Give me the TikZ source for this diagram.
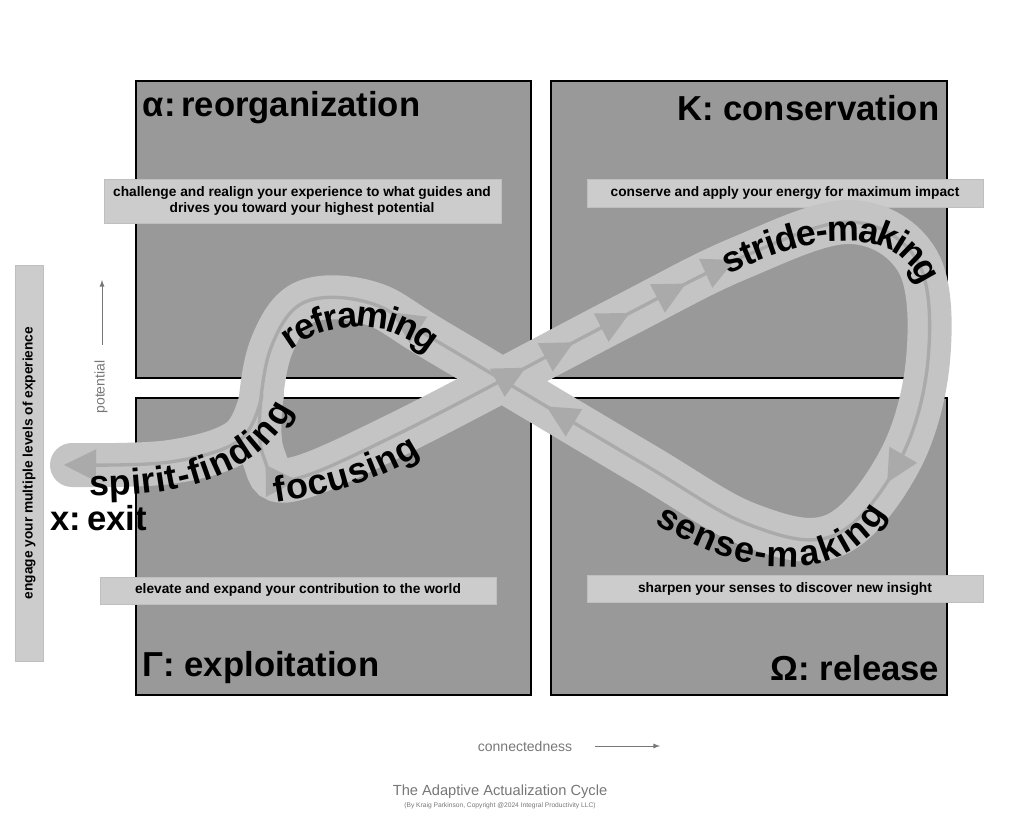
\documentclass[tikz,border=0pt]{standalone}
\usepackage{fontspec}
\setmainfont{Liberation Sans}
\usetikzlibrary{decorations.text,decorations.markings}
\definecolor{quad}{HTML}{999999}
\definecolor{band}{HTML}{C4C4C4}
\definecolor{banner}{HTML}{CCCCCC}
\definecolor{arr}{HTML}{AAAAAA}
\definecolor{axis}{HTML}{777777}
\tikzset{
  quadbox/.style={draw=black,line width=0.8pt,fill=quad},
  bannerbox/.style={draw=black!25,fill=banner,line width=0.5pt},
  bannertext/.style={font=\fontsize{10.3}{12.5}\selectfont\bfseries,align=center},
  qtitle/.style={font=\fontsize{26}{26}\selectfont\bfseries},
  curvetext/.style={decorate,decoration={text along path,text align=center,raise=-10pt,text={|\fontsize{27}{27}\selectfont\bfseries|#1}}}
}
\newcommand{\tri}{\fill[arr] (11pt,0) -- (-13pt,12pt) -- (-13pt,-12pt) -- cycle;}
\begin{document}
\begin{tikzpicture}[x=0.75pt,y=-0.75pt]
\useasboundingbox (0,0) rectangle (1017,823);
% quadrants
\draw[quadbox] (136,81) rectangle (531,378);
\draw[quadbox] (551,81) rectangle (947,378);
\draw[quadbox] (136,398) rectangle (531,695);
\draw[quadbox] (551,398) rectangle (947,695);
% titles
\node[qtitle,anchor=west] (ta) at (138,108) {α:\,reorganization};
\node[qtitle,anchor=east] (tk) at (944,108) {K: conservation};
\node[qtitle,anchor=west] (tr) at (138,668) {Γ: exploitation};
\node[qtitle,anchor=east] (to) at (944,668) {Ω: release};
\node[qtitle,anchor=west] (tx) at (46,518) {x:\,exit};
% banners
\draw[bannerbox] (104,179) rectangle (501,223);
\node[bannertext] (ba) at (302,201) {challenge and realign your experience to what guides and\\drives you toward your highest potential};
\draw[bannerbox] (587,179) rectangle (983,207);
\node[bannertext] (bk) at (785,193) {conserve and apply your energy for maximum impact};
\draw[bannerbox] (100,577) rectangle (496,604);
\node[bannertext] (br) at (298,590) {elevate and expand your contribution to the world};
\draw[bannerbox] (587,575) rectangle (983,602);
\node[bannertext] (bo) at (785,589) {sharpen your senses to discover new insight};
\draw[bannerbox] (15,265) rectangle (43,661);
\node[bannertext,rotate=90] (be) at (29,463) {engage your multiple levels of experience};
% axes
\node[font=\fontsize{10.5}{12}\selectfont,text=axis,rotate=90] (pl) at (101,387) {potential};
\coordinate (pa) at (102,345); \coordinate (pb) at (102,280);
\draw[axis,-latex,line width=0.7pt] (pa) -- (pb);
\node[font=\fontsize{10.5}{12}\selectfont,text=axis] (cl) at (525,746) {connectedness};
\coordinate (ca) at (595,746); \coordinate (cb) at (660,746);
\draw[axis,-latex,line width=0.7pt] (ca) -- (cb);
\node[font=\fontsize{11}{13}\selectfont,text=axis] (tt) at (500,792) {The Adaptive Actualization Cycle};
\node[font=\fontsize{5}{6}\selectfont,text=axis] (st) at (500,806) {(By Kraig Parkinson, Copyright @2024 Integral Productivity LLC)};
% bands
\def\spirit{(262,395) (240,440) (170,462) (72,465)}
\def\loopc{(290,480) (400,433) (620,318) (740,258) (850,222) (918,262) (928,360) (900,460) (835,535) (750,525) (640,462) (440,343) (370,303) (305,302) (272,345) (260,410) (264,458)}
\draw[band,line width=33pt,line cap=round] plot[smooth,tension=0.6] coordinates {\spirit};
\draw[band,line width=33pt] plot[smooth cycle,tension=0.6] coordinates {\loopc};
\draw[arr,line width=2.5pt] plot[smooth cycle,tension=0.6] coordinates {\loopc};
\draw[arr,line width=2.5pt] plot[smooth,tension=0.6] coordinates {\spirit};
\path[decorate,decoration={markings,
  mark=at position 0.07 with {\tri},
  mark=at position 0.1 with {\tri},
  mark=at position 0.135 with {\tri},
  mark=at position 0.17 with {\tri},
  mark=at position 0.2 with {\tri},
  mark=at position 0.44 with {\tri},
  mark=at position 0.66 with {\tri},
  mark=at position 0.76 with {\tri},
  mark=at position 0.93 with {\tri}}]
  plot[smooth cycle,tension=0.6] coordinates {\loopc};
\path[decorate,decoration={markings,mark=at position 0.97 with {\tri}}]
  plot[smooth,tension=0.6] coordinates {\spirit};
% curved labels
\path[curvetext={reframing}] (268,352) .. controls (320,300) and (400,300) .. (450,356);
\path[curvetext={spirit-finding}] (92,482) .. controls (170,484) and (250,467) .. (280,405);
\path[curvetext={focusing}] (270,490) .. controls (330,482) and (385,464) .. (418,440);
\path[curvetext={stride-making}] (708,270) .. controls (800,220) and (915,200) .. (938,295);
\path[curvetext={sense-making}] (656,508) .. controls (740,565) and (845,575) .. (878,500);
\end{tikzpicture}
\end{document}
